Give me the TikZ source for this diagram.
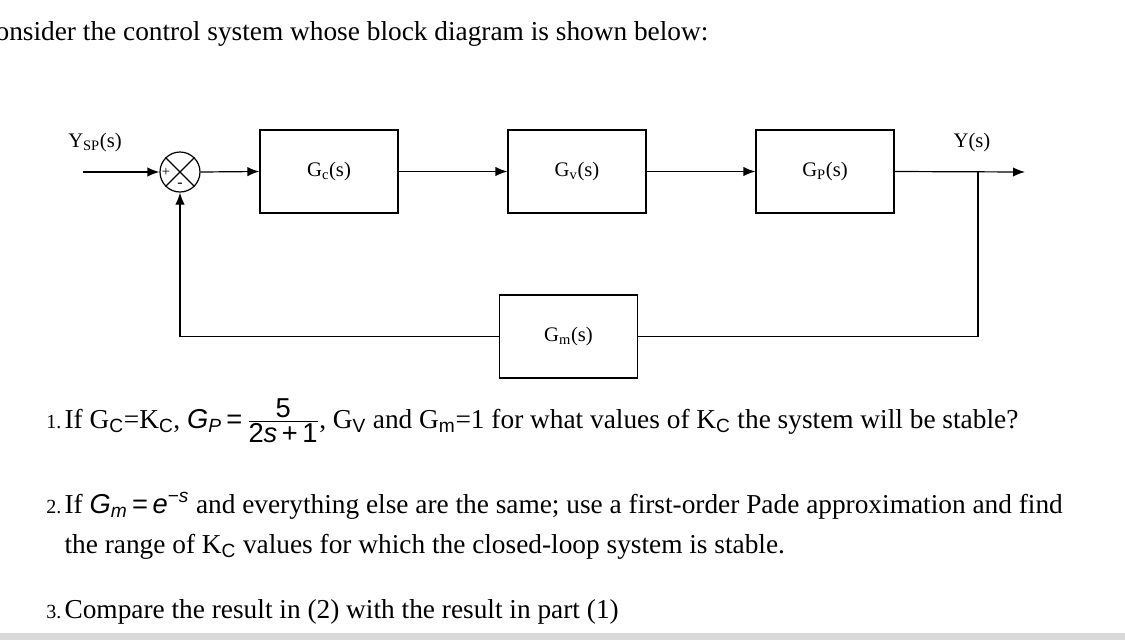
\documentclass[tikz,border=0pt]{standalone}
\usepackage{fontspec}
\setmainfont{Liberation Serif}
\newfontfamily\msf{Liberation Sans}
\usetikzlibrary{arrows,arrows.meta,calc,positioning}
\tikzstyle{blk}=[draw,minimum width=103.5pt,minimum height=62.25pt,inner sep=0pt,font=\fontsize{15.5}{18}\selectfont]
\tikzstyle{txt}=[anchor=base west,inner sep=0pt,font=\fontsize{20.5}{24}\selectfont]
\tikzstyle{num}=[anchor=base east,inner sep=0pt,font=\fontsize{15}{16}\selectfont]
\tikzstyle{lbl}=[inner sep=0pt,font=\fontsize{15.5}{18}\selectfont]

\begin{document}
\begin{tikzpicture}[
            x=0.75pt,y=-0.75pt,
            >={Latex[length=9pt,width=7pt]},
            line width=0.9pt
        ]
        \useasboundingbox (0,0) rectangle (1125,640);
        \fill[gray!30] (0,633) rectangle (1125,640);
        \node[txt] (title) at (-5,40) {onsider the control system whose block diagram is shown below:};
        % loop
        \node[draw,circle,minimum size=30pt,inner sep=0pt] (sum) at (180,172) {};
        \draw (sum.45) -- (sum.225) (sum.135) -- (sum.315);
        \node[lbl,font=\fontsize{11}{12}\selectfont] at (166,172) {+};
        \node[lbl,font=\fontsize{12}{12}\selectfont] at (180,185) {-};
        \node[blk] (gc) at (329,171.5) {G\textsubscript{c}(s)};
        \node[blk] (gv) at (577,171.5) {G\textsubscript{v}(s)};
        \node[blk] (gp) at (825,171.5) {G\textsubscript{P}(s)};
        \node[blk] (gm) at (568.5,336.5) {G\textsubscript{m}(s)};
        \coordinate (in) at (83,172);
        \coordinate (out) at (1025,172);
        \coordinate (br) at (978,172);
        \node[lbl] (ysp) at (95,143) {Y\textsubscript{SP}(s)};
        \node[lbl] (y) at (972,143) {Y(s)};
        \draw[->] (in) -- (sum.west);
        \draw[->] (sum.east) -- (gc.west);
        \draw[->] (gc.east) -- (gv.west);
        \draw[->] (gv.east) -- (gp.west);
        \draw[->] (gp.east) -- (out);
        \draw (br) |- (gm.east);
        \draw[->] (gm.west) -| (sum.south);
        % questions
        \node[num] (n1) at (62,428) {1.};
        \node[txt] (q1) at (64,428) {If G\textsubscript{\msf C}=K\textsubscript{\msf C}, {\msf\itshape G\textsubscript{P}\upshape\,=\,}$\frac{\hbox{\msf 5\vphantom{2}}}{\hbox{\msf 2\itshape s\upshape\,+\,1}\vphantom{\big|}}$, G\textsubscript{\msf V} and G\textsubscript{\msf m}=1 for what values of K\textsubscript{\msf C} the system will be stable?};
        \node[num] (n2) at (62,513) {2.};
        \node[txt] (q2) at (64,513) {If {\msf\itshape G\textsubscript{m}\upshape\,=\,\itshape e\textsuperscript{\upshape −\itshape s}} and everything else are the same; use a first-order Pade approximation and find};
        \node[txt] (q2b) at (64,553) {the range of K\textsubscript{\msf C} values for which the closed-loop system is stable.};
        \node[num] (n3) at (62,618) {3.};
        \node[txt] (q3) at (64,618) {Compare the result in (2) with the result in part (1)};
    \end{tikzpicture}
\end{document}
